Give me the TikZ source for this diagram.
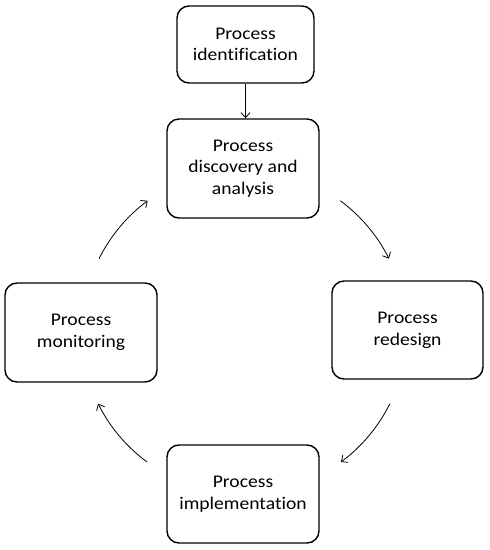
\documentclass[tikz,border=0pt]{standalone}
\usepackage{fontspec}
\setmainfont{Carlito}[FakeStretch=1.1, Ligatures=NoCommon]
\usetikzlibrary{arrows.meta,calc}
\begin{document}
\begin{tikzpicture}[x=1pt,y=1pt,
  box/.style={draw, line width=1.4pt, rounded corners=12pt, align=center,
    font=\fontsize{17.8}{21.7}\selectfont, inner sep=0pt},
  arr/.style={line width=0.8pt, -{Straight Barb[length=5pt,width=9pt]}}]
\useasboundingbox (0,0) rectangle (490,550);
\node[box, minimum width=137pt, minimum height=77pt] (ident) at (245.5,505.5) {Process\\identification};
\node[box, minimum width=152pt, minimum height=99pt] (disc) at (243,381.5) {Process\\discovery and\\analysis};
\node[box, minimum width=152pt, minimum height=99pt] (mon) at (81,217.5) {Process\\monitoring};
\node[box, minimum width=151pt, minimum height=98pt] (red) at (407.5,220) {Process\\redesign};
\node[box, minimum width=152pt, minimum height=98pt] (impl) at (243,56) {Process\\implementation};
\coordinate (C) at (244,219);
\draw[arr] (ident.south) -- (ident.south |- disc.north);
\coordinate (a1) at ($(C)+(53.5:162)$);
\coordinate (a2) at ($(C)+(-26.5:163)$);
\coordinate (a3) at ($(C)+(233.5:163)$);
\coordinate (a4) at ($(C)+(153.5:162)$);
\draw[arr] (a1) arc[start angle=53.5, end angle=26.5, radius=162];
\draw[arr] (a2) arc[start angle=-26.5, end angle=-53.5, radius=163];
\draw[arr] (a3) arc[start angle=233.5, end angle=206.5, radius=163];
\draw[arr] (a4) arc[start angle=153.5, end angle=126.5, radius=162];
\end{tikzpicture}
\end{document}
